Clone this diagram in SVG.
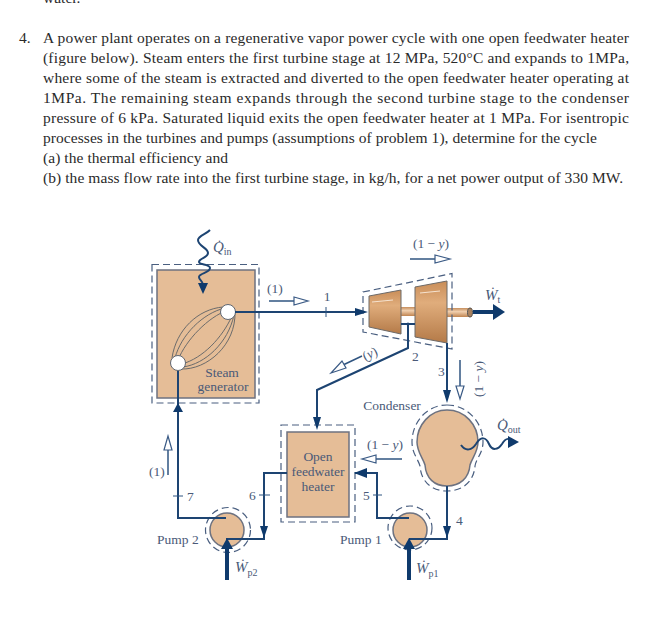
<svg xmlns="http://www.w3.org/2000/svg" width="669" height="634" viewBox="0 0 669 634">
<style>
.t{font-family:"Liberation Serif","Times New Roman",serif;font-size:15.500px;fill:#2a2a2a}
.l{font-family:"Liberation Serif","Times New Roman",serif;font-size:13.500px;fill:#4a5a78}
.i{font-style:italic}
.q{font-size:15px}
.s{font-size:10px;font-style:normal}
.pipe{fill:none;stroke:#1d4472;stroke-width:2}
.thick{fill:none;stroke:#0f3a6c;stroke-width:4}
.thin{fill:none;stroke:#2f5480;stroke-width:1.5}
.dash{fill:none;stroke:#4a5f80;stroke-width:1.2;stroke-dasharray:7 4}
.body{fill:#e5bd97;stroke:#6d7280;stroke-width:1.5}
.coil{fill:none;stroke:#6b6b6b;stroke-width:1}
.hollow{fill:#fff;stroke:#3a5a85;stroke-width:1.2}
.head{fill:#0f3a6c}
.tick{stroke:#2f5480;stroke-width:1}
</style>
<defs>
<linearGradient id="turb" x1="0" y1="0" x2="0" y2="1"><stop offset="0" stop-color="#c98d58"/><stop offset="0.35" stop-color="#e0ad7c"/><stop offset="1" stop-color="#b47a48"/></linearGradient>
<linearGradient id="shaft" x1="0" y1="0" x2="0" y2="1"><stop offset="0" stop-color="#c58d5c"/><stop offset="0.4" stop-color="#f0cfae"/><stop offset="1" stop-color="#c08450"/></linearGradient>
</defs>
<rect width="669" height="634" fill="#fff"/>
<g id="problem-text">
<text class="t" x="43" y="3">water.</text>
<text class="t" x="19" y="43">4.</text>
<text class="t" x="43" y="43" textLength="586">A power plant operates on a regenerative vapor power cycle with one open feedwater heater</text>
<text class="t" x="43" y="63" textLength="586">(figure below). Steam enters the first turbine stage at 12 MPa, 520°C and expands to 1MPa,</text>
<text class="t" x="43" y="83" textLength="586">where some of the steam is extracted and diverted to the open feedwater heater operating at</text>
<text class="t" x="43" y="103" textLength="586">1MPa. The remaining steam expands through the second turbine stage to the condenser</text>
<text class="t" x="43" y="123" textLength="586">pressure of 6 kPa. Saturated liquid exits the open feedwater heater at 1 MPa. For isentropic</text>
<text class="t" x="43" y="143" textLength="554">processes in the turbines and pumps (assumptions of problem 1), determine for the cycle</text>
<text class="t" x="43" y="163" textLength="185">(a) the thermal efficiency and</text>
<text class="t" x="43" y="183" textLength="580">(b) the mass flow rate into the first turbine stage, in kg/h, for a net power output of 330 MW.</text>
</g>
<g id="steam-generator">
<rect class="dash" x="152" y="264.500" width="107" height="138.500"/>
<rect class="body" x="157" y="270" width="98" height="128"/>
<path class="coil" d="M223 307C198 309 176 330 172 358"/>
<path class="coil" d="M225 308C203 313 181 335 175 358"/>
<path class="coil" d="M228 310C208 317 186 340 178 360"/>
<path class="coil" d="M232 316C222 338 203 358 182 364"/>
<path class="coil" d="M234 315C228 343 205 364 183 367"/>
<path class="coil" d="M235 312C236 345 207 370 181 369"/>
<circle cx="228" cy="312" r="7.500" fill="#fff" stroke="#5f6670"/>
<circle cx="178" cy="363" r="7.500" fill="#fff" stroke="#5f6670"/>
<text class="l" x="222" y="377" text-anchor="middle">Steam</text>
<text class="l" x="223" y="391" text-anchor="middle">generator</text>
</g>
<g id="turbine">
<rect x="401" y="307" width="14" height="9" fill="url(#shaft)"/>
<rect x="447" y="308" width="25" height="9" fill="url(#shaft)"/>
<ellipse cx="470" cy="312.500" rx="2.500" ry="4.500" fill="#a9825f" stroke="#555"/>
<path d="M369 296L401 290V334L369 327Z" fill="url(#turb)" stroke="#6d6a68"/>
<path d="M415 287L447 281V343L415 337Z" fill="url(#turb)" stroke="#6d6a68"/>
<path d="M372 302L393 300M420 293L440 291" stroke="#f6e3d0" stroke-width="1" fill="none"/>
<path class="dash" d="M363 292L452 273.500V349L363 332Z"/>
</g>
<g id="feedwater-heater">
<rect class="dash" x="281" y="425" width="74" height="97"/>
<rect class="body" x="287" y="432" width="62" height="85"/>
<text class="l" x="318" y="461" text-anchor="middle">Open</text>
<text class="l" x="318" y="476" text-anchor="middle">feedwater</text>
<text class="l" x="318" y="491" text-anchor="middle">heater</text>
</g>
<g id="condenser">
<path class="dash" d="M447 405C468 405 483 423 483 442C483 453 476 459 475 466C474 481 463 491 447 491C431 491 421 481 420 466C418 459 412 453 412 442C412 423 426 405 447 405Z"/>
<path class="body" d="M447 410C465 410 478 425 478 442C478 452 472 458 470 465C469 478 460 486 447 486C434 486 426 478 425 465C423 458 417 452 417 442C417 425 430 410 447 410Z"/>
</g>
<g id="pump-1">
<circle class="dash" cx="410" cy="528" r="22"/>
<circle class="body" cx="410" cy="530" r="17"/>
</g>
<g id="pump-2">
<circle class="dash" cx="228" cy="530" r="22.500"/>
<circle class="body" cx="227" cy="530" r="17"/>
</g>
<g id="connectors">
<path class="pipe" d="M235 312H364"/>
<path class="head" d="M355 308L368 312L355 316Z"/>
<path class="pipe" d="M178 371V518H226"/>
<path class="head" d="M173 412L178 403L183 412Z"/>
<path class="pipe" d="M287 473H264V539H226"/>
<path class="head" d="M260 526H268L264 538Z"/>
<path class="pipe" d="M409 518H377V473H355"/>
<path class="head" d="M367 468V478L354 473Z"/>
<path class="pipe" d="M447 486V539H409"/>
<path class="head" d="M443 526H451L447 538Z"/>
<path class="pipe" d="M408 324V348L317 390V420M401 324H415"/>
<path class="head" d="M313 417H321L317 430Z"/>
<circle cx="408" cy="324" r="1.500" fill="#1d4472"/>
<path class="pipe" d="M447 343V395"/>
<path class="head" d="M443 390H451L447 403Z"/>
<path class="thick" d="M473 312H496"/>
<path class="head" d="M493 304L505 312L493 320Z"/>
<path class="thick" d="M227 580V546"/>
<path class="head" d="M221 549L227 538L233 549Z"/>
<path class="thick" d="M409 580V546"/>
<path class="head" d="M403 549L409 538L415 549Z"/>
<path d="M210 230C206 234 198 236 198 240C198 246 208 248 208 253C208 258 199 258 199 262C199 265 210 264 210 268C210 273 199 273 199 277C199 280 203 281 203 285" fill="none" stroke="#1d4472" stroke-width="2"/>
<path class="head" d="M198 283H208L203 294Z"/>
<path d="M461 445C466 452 472 450 476 444C481 436 486 437 489 444C492 451 498 450 502 444C506 437 510 438 514 442" fill="none" stroke="#1d4472" stroke-width="2"/>
<path class="head" d="M508 436L519 442L508 448Z"/>
<path class="tick" d="M326 307V317M173 496H183M259 495H270M373 495H382"/>
<path class="thin" d="M269 301H294"/>
<path class="hollow" d="M294 297L308 301L294 305Z"/>
<path class="thin" d="M410 259H436"/>
<path class="hollow" d="M435 255L450 259L435 263Z"/>
<path class="thin" d="M460 360V386"/>
<path class="hollow" d="M456 386H464L460 399Z"/>
<path class="thin" d="M362 356L343 365"/>
<path class="hollow" d="M342 361L346 368L331 373Z"/>
<path class="thin" d="M402 459H375"/>
<path class="hollow" d="M376 455V463L362 459Z"/>
<path class="thin" d="M168 475V450"/>
<path class="hollow" d="M164 450H172L168 436Z"/>
</g>
<g id="labels">
<text class="l" x="267" y="293">(1)</text>
<text class="l" x="327" y="301" text-anchor="middle">1</text>
<text class="l" x="431" y="248" text-anchor="middle">(1 − <tspan class="i">y</tspan>)</text>
<text class="l" x="365" y="361" transform="rotate(-25 365 361)">(<tspan class="i">y</tspan>)</text>
<text class="l" x="412" y="361">2</text>
<text class="l" x="438" y="376">3</text>
<text class="l" x="483" y="397" transform="rotate(-90 483 397)">(1 − <tspan class="i">y</tspan>)</text>
<text class="l" x="392" y="410" text-anchor="middle">Condenser</text>
<text class="l" x="367" y="449">(1 − <tspan class="i">y</tspan>)</text>
<text class="l" x="456" y="525">4</text>
<text class="l" x="363" y="500">5</text>
<text class="l" x="249" y="500">6</text>
<text class="l" x="187" y="501">7</text>
<text class="l" x="149" y="476">(1)</text>
<text class="l" x="157" y="544">Pump 2</text>
<text class="l" x="340" y="544">Pump 1</text>
<text class="l i q" x="213" y="252">Q̇<tspan class="s" dy="3">in</tspan></text>
<text class="l i q" x="497" y="430">Q̇<tspan class="s" dy="3">out</tspan></text>
<text class="l i q" x="485" y="300">Ẇ<tspan class="s" dy="3">t</tspan></text>
<text class="l i q" x="235" y="572">Ẇ<tspan class="s" dy="4">p2</tspan></text>
<text class="l i q" x="416" y="573">Ẇ<tspan class="s" dy="4">p1</tspan></text>
</g>
</svg>
